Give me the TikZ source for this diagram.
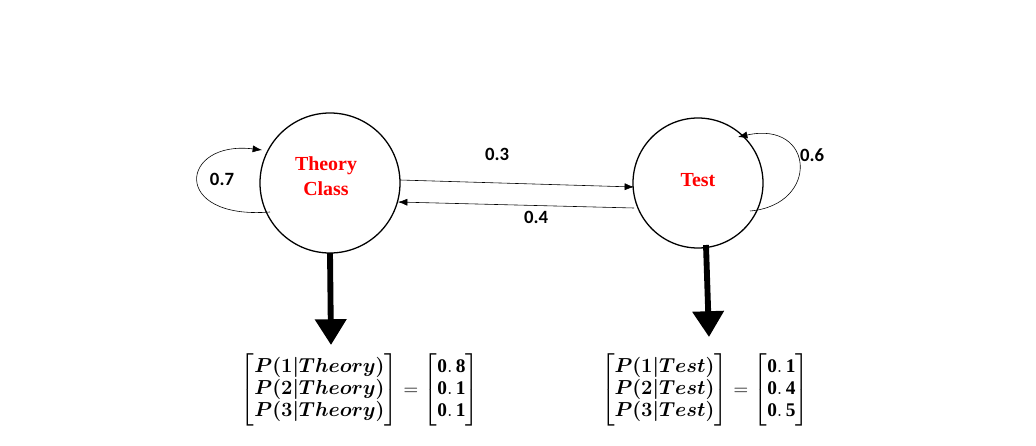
\documentclass[tikz,border=0pt]{standalone}
\usepackage{amsmath,bm}
\usepackage{fontspec}
\setmainfont{Liberation Serif}
\newfontfamily\lblfont{Carlito}
\usetikzlibrary{arrows.meta}
\begin{document}
\begin{tikzpicture}[x=0.03cm,y=-0.03cm,
  state/.style={circle,draw,line width=1.1pt,inner sep=0pt},
  stxt/.style={text=red,font=\bfseries\fontsize{17}{21}\selectfont,align=center},
  lbl/.style={font=\lblfont\bfseries\fontsize{16}{18}\selectfont},
  tr/.style={-{Latex[length=8pt,width=6pt]},line width=0.5pt},
  thick arr/.style={line width=5pt,-{Triangle[length=22pt,width=26pt]}},
  mat/.style={font=\fontsize{16.5}{19}\selectfont}]
\useasboundingbox (0,0) rectangle (1036,445);
\node[state,minimum size=4.2cm] (th) at (330,183) {};
\node[stxt] (tht) at (326,176) {Theory\\Class};
\node[state,minimum size=3.9cm] (te) at (698,183) {};
\node[stxt] (tet) at (698,180) {Test};
\coordinate (a1) at (400,180); \coordinate (b1) at (634,187);
\coordinate (a2) at (634,208); \coordinate (b2) at (398,202);
\draw[tr] (a1) -- (b1);
\draw[tr] (a2) -- (b2);
\node[lbl] (l3) at (497,154) {0.3};
\node[lbl] (l4) at (536,217) {0.4};
\coordinate (s1) at (270,212); \coordinate (e1) at (262,150);
\draw[tr] (s1) .. controls (170,220) and (180,140) .. (e1);
\node[lbl] (l7) at (222,179) {0.7};
\coordinate (s2) at (750,211); \coordinate (e2) at (738,137);
\draw[tr] (s2) .. controls (820,205) and (815,120) .. (e2);
\node[lbl] (l6) at (812,155) {0.6};
\coordinate (d1) at (330,253); \coordinate (f1) at (331,345);
\coordinate (d2) at (706,245); \coordinate (f2) at (709,337);
\draw[thick arr] (d1) -- (f1);
\draw[thick arr] (d2) -- (f2);
\node[mat] (m1) at (360,390) {$\begin{bmatrix}\bm{P(1|Theory)}\\ \bm{P(2|Theory)}\\ \bm{P(3|Theory)}\end{bmatrix}=\begin{bmatrix}\mathbf{0.\,8}\\ \mathbf{0.\,1}\\ \mathbf{0.\,1}\end{bmatrix}$};
\node[mat] (m2) at (705,390) {$\begin{bmatrix}\bm{P(1|Test)}\\ \bm{P(2|Test)}\\ \bm{P(3|Test)}\end{bmatrix}=\begin{bmatrix}\mathbf{0.\,1}\\ \mathbf{0.\,4}\\ \mathbf{0.\,5}\end{bmatrix}$};
\end{tikzpicture}
\end{document}
